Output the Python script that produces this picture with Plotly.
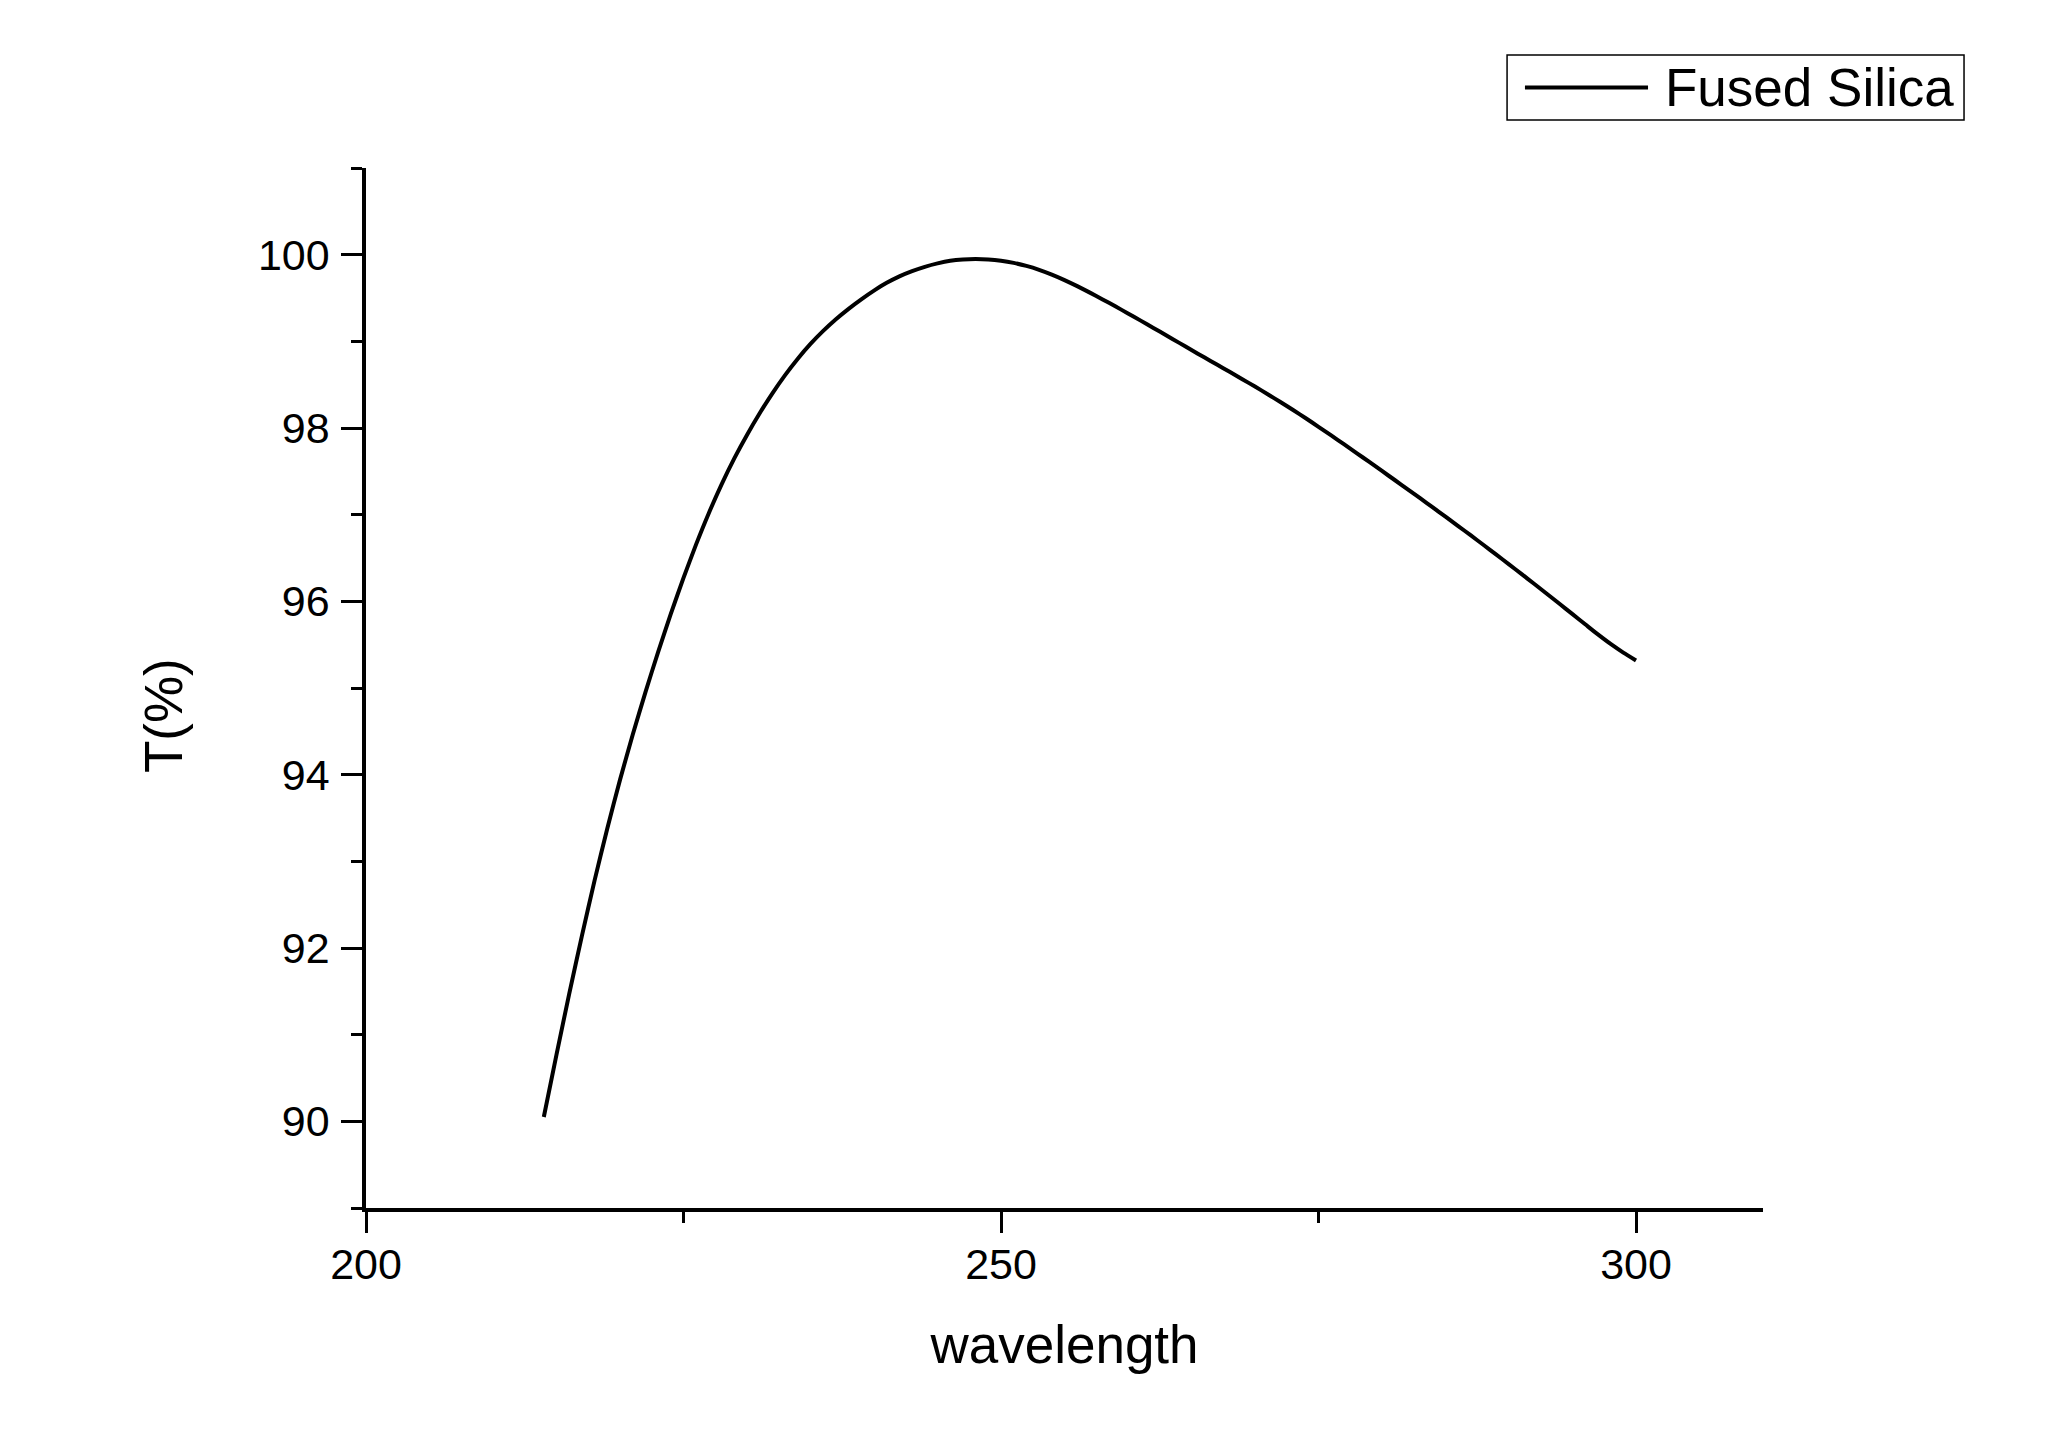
import plotly.graph_objects as go

# Data (wavelength in nm, transmittance in %)
wavelength = list(range(214, 301))
transmittance = [
    90.05, 90.77, 91.47, 92.14, 92.78, 93.38, 93.94, 94.46, 94.95, 95.415,   # 214-223
    95.855, 96.27, 96.66, 97.02, 97.35, 97.65, 97.92, 98.17, 98.40, 98.61,   # 224-233
    98.80, 98.97, 99.12, 99.255, 99.375, 99.485, 99.585, 99.675, 99.75, 99.81,  # 234-243
    99.86, 99.90, 99.93, 99.945, 99.95, 99.945, 99.93, 99.905, 99.87, 99.825,  # 244-253
    99.77, 99.707, 99.637, 99.562, 99.484, 99.404, 99.322, 99.239, 99.155, 99.07,  # 254-263
    98.985, 98.90, 98.816, 98.732, 98.648, 98.563, 98.478, 98.39, 98.30, 98.207,  # 264-273
    98.112, 98.014, 97.914, 97.813, 97.711, 97.608, 97.504, 97.40, 97.295, 97.19,  # 274-283
    97.084, 96.977, 96.869, 96.76, 96.65, 96.539, 96.427, 96.314, 96.20, 96.085,  # 284-293
    95.969, 95.852, 95.735, 95.618, 95.508, 95.408, 95.318,                       # 294-300
]
series_name = "Fused Silica"
x_ticks = [200, 250, 300]
y_ticks = [90, 92, 94, 96, 98, 100]
x_title = "wavelength"
y_title = "T(%)"

FONT = "Liberation Sans, Arial, sans-serif"

fig = go.Figure()
fig.add_trace(go.Scatter(
    x=wavelength, y=transmittance, mode="lines", name=series_name,
    line=dict(color="black", width=4, shape="spline", smoothing=0.6), showlegend=False,
))

axis_common = dict(
    showline=True, linecolor="black", linewidth=3.5,
    ticks="outside", ticklen=21, tickwidth=2.5, tickcolor="black",
    showgrid=False, zeroline=False, mirror=False,
    tickfont=dict(family=FONT, size=43, color="black"),
)

fig.update_xaxes(
    range=[200, 310], tickvals=x_ticks, ticktext=[str(v) for v in x_ticks],
    minor=dict(ticks="outside", ticklen=11, tickwidth=2.5, tickcolor="black", dtick=25, tick0=200, showgrid=False),
    title=dict(text=x_title, font=dict(family=FONT, size=53, color="black"), standoff=40),
    ticklabelstandoff=-5,
    **axis_common,
)
fig.update_yaxes(
    range=[89, 101], tickvals=y_ticks, ticktext=[str(v) for v in y_ticks],
    minor=dict(ticks="outside", ticklen=11, tickwidth=2.5, tickcolor="black", dtick=1, tick0=89, showgrid=False),
    ticklabelstandoff=3,
    **axis_common,
)

# Y-axis title, placed as in the reference (slightly below the axis centre)
fig.add_annotation(xref="paper", yref="paper", x=-0.1453, y=0.473,
                   xanchor="center", yanchor="middle", showarrow=False, textangle=-90,
                   text=y_title, font=dict(family=FONT, size=53, color="black"))

# Manual legend box (matches the long line sample of the reference)
fig.add_shape(type="rect", xref="paper", yref="paper",
              x0=0.8168, x1=1.1439, y0=1.0462, y1=1.1087,
              line=dict(color="black", width=1.5), fillcolor="white")
fig.add_shape(type="line", xref="paper", yref="paper",
              x0=0.8296, x1=0.9177, y0=1.0774, y1=1.0774,
              line=dict(color="black", width=4))
fig.add_annotation(xref="paper", yref="paper", x=0.9281, y=1.0774,
                   xanchor="left", yanchor="middle", showarrow=False,
                   text=series_name, font=dict(family=FONT, size=53, color="black"))

fig.update_layout(
    width=2048, height=1448,
    margin=dict(l=366, r=285, t=168, b=240, autoexpand=False),
    paper_bgcolor="white", plot_bgcolor="white",
    font=dict(family=FONT, color="black"),
)

fig.write_html("out.html")
